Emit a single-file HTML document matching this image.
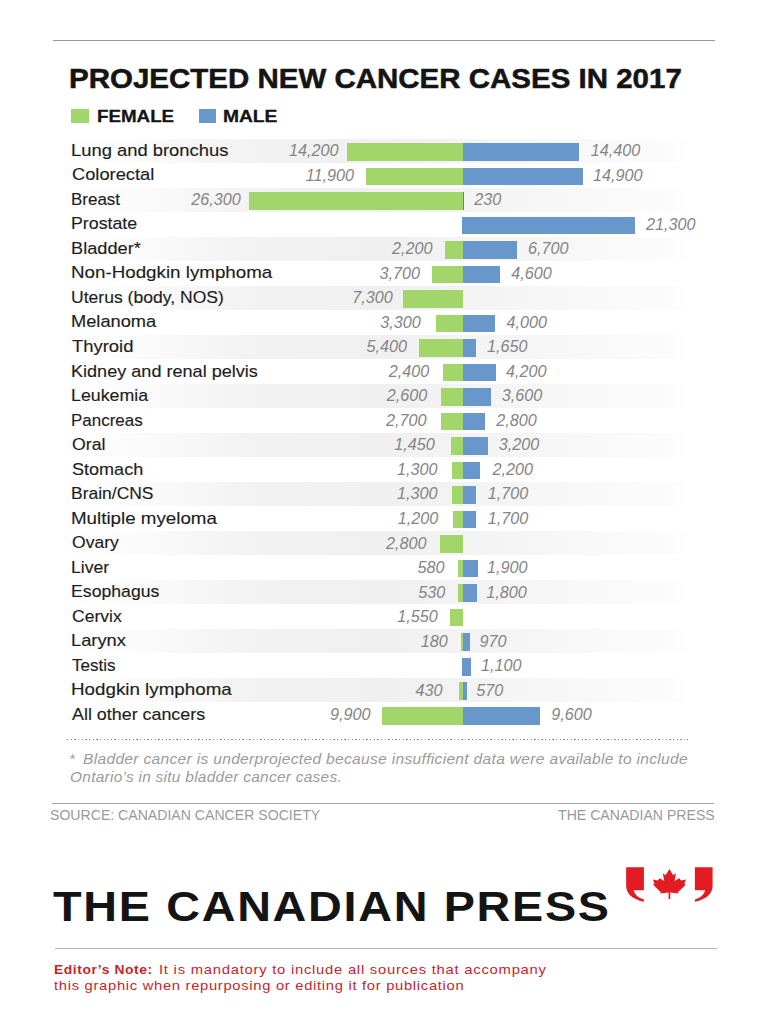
<!DOCTYPE html>
<html><head><meta charset="utf-8"><style>
html,body{margin:0;padding:0;background:#fff;}
body{width:768px;height:1024px;position:relative;overflow:hidden;font-family:"Liberation Sans",sans-serif;}
.t{position:absolute;white-space:nowrap;line-height:1;transform-origin:0 0;}
.r{position:absolute;}
.g{background:#a2d66b;}
.b{background:#6897cc;}
.st{background:linear-gradient(90deg,#fff 0%,#fcfcfc 11%,#f2f2f2 32%,#f0f0f0 52%,#f5f5f5 72%,#fcfcfc 97%,#fff 100%);}
</style></head><body>
<div class="r" style="left:52.5px;top:39.5px;width:662.3px;height:1.2px;background:#999"></div>
<div class="r g" style="left:71.3px;top:109.2px;width:18px;height:13.7px"></div>
<div class="r b" style="left:198.6px;top:109.2px;width:17.8px;height:13.7px"></div>
<div class="r st" style="left:55px;top:138.90px;width:635px;height:24px"></div>
<div class="r st" style="left:55px;top:187.94px;width:635px;height:24px"></div>
<div class="r st" style="left:55px;top:236.98px;width:635px;height:24px"></div>
<div class="r st" style="left:55px;top:286.02px;width:635px;height:24px"></div>
<div class="r st" style="left:55px;top:335.06px;width:635px;height:24px"></div>
<div class="r st" style="left:55px;top:384.10px;width:635px;height:24px"></div>
<div class="r st" style="left:55px;top:433.14px;width:635px;height:24px"></div>
<div class="r st" style="left:55px;top:482.18px;width:635px;height:24px"></div>
<div class="r st" style="left:55px;top:531.22px;width:635px;height:24px"></div>
<div class="r st" style="left:55px;top:580.26px;width:635px;height:24px"></div>
<div class="r st" style="left:55px;top:629.30px;width:635px;height:24px"></div>
<div class="r st" style="left:55px;top:678.34px;width:635px;height:24px"></div>
<div class="r g" style="left:346.80px;top:143.00px;width:116.20px;height:17.6px"></div>
<div class="r b" style="left:463.00px;top:143.00px;width:116.30px;height:17.6px"></div>
<div class="r g" style="left:365.70px;top:167.52px;width:97.30px;height:17.6px"></div>
<div class="r b" style="left:463.00px;top:167.52px;width:120.40px;height:17.6px"></div>
<div class="r g" style="left:248.70px;top:192.04px;width:214.30px;height:17.6px"></div>
<div class="r" style="left:463.00px;top:192.04px;width:1.2px;height:17.6px;background:#5f8d68"></div>
<div class="r b" style="left:462.30px;top:216.56px;width:173.20px;height:17.6px"></div>
<div class="r g" style="left:445.20px;top:241.08px;width:17.80px;height:17.6px"></div>
<div class="r b" style="left:463.00px;top:241.08px;width:54.30px;height:17.6px"></div>
<div class="r g" style="left:432.10px;top:265.60px;width:30.90px;height:17.6px"></div>
<div class="r b" style="left:463.00px;top:265.60px;width:36.80px;height:17.6px"></div>
<div class="r g" style="left:403.00px;top:290.12px;width:60.00px;height:17.6px"></div>
<div class="r g" style="left:436.00px;top:314.64px;width:27.00px;height:17.6px"></div>
<div class="r b" style="left:463.00px;top:314.64px;width:31.90px;height:17.6px"></div>
<div class="r g" style="left:419.10px;top:339.16px;width:43.90px;height:17.6px"></div>
<div class="r b" style="left:463.00px;top:339.16px;width:12.90px;height:17.6px"></div>
<div class="r g" style="left:443.30px;top:363.68px;width:19.70px;height:17.6px"></div>
<div class="r b" style="left:463.00px;top:363.68px;width:32.90px;height:17.6px"></div>
<div class="r g" style="left:441.25px;top:388.20px;width:21.75px;height:17.6px"></div>
<div class="r b" style="left:463.00px;top:388.20px;width:28.00px;height:17.6px"></div>
<div class="r g" style="left:441.25px;top:412.72px;width:21.75px;height:17.6px"></div>
<div class="r b" style="left:463.00px;top:412.72px;width:22.00px;height:17.6px"></div>
<div class="r g" style="left:451.10px;top:437.24px;width:11.90px;height:17.6px"></div>
<div class="r b" style="left:463.00px;top:437.24px;width:25.10px;height:17.6px"></div>
<div class="r g" style="left:452.40px;top:461.76px;width:10.60px;height:17.6px"></div>
<div class="r b" style="left:463.00px;top:461.76px;width:17.00px;height:17.6px"></div>
<div class="r g" style="left:452.40px;top:486.28px;width:10.60px;height:17.6px"></div>
<div class="r b" style="left:463.00px;top:486.28px;width:12.90px;height:17.6px"></div>
<div class="r g" style="left:453.20px;top:510.80px;width:9.80px;height:17.6px"></div>
<div class="r b" style="left:463.00px;top:510.80px;width:12.90px;height:17.6px"></div>
<div class="r g" style="left:439.90px;top:535.32px;width:23.10px;height:17.6px"></div>
<div class="r g" style="left:458.20px;top:559.84px;width:4.80px;height:17.6px"></div>
<div class="r b" style="left:463.00px;top:559.84px;width:15.00px;height:17.6px"></div>
<div class="r g" style="left:458.20px;top:584.36px;width:4.80px;height:17.6px"></div>
<div class="r b" style="left:463.00px;top:584.36px;width:13.90px;height:17.6px"></div>
<div class="r g" style="left:450.10px;top:608.88px;width:12.90px;height:17.6px"></div>
<div class="r g" style="left:461.00px;top:633.40px;width:2.00px;height:17.6px"></div>
<div class="r b" style="left:463.00px;top:633.40px;width:6.90px;height:17.6px"></div>
<div class="r b" style="left:462.30px;top:657.92px;width:8.60px;height:17.6px"></div>
<div class="r g" style="left:459.10px;top:682.44px;width:3.90px;height:17.6px"></div>
<div class="r b" style="left:463.00px;top:682.44px;width:3.90px;height:17.6px"></div>
<div class="r g" style="left:382.00px;top:706.96px;width:81.00px;height:17.6px"></div>
<div class="r b" style="left:463.00px;top:706.96px;width:77.20px;height:17.6px"></div>
<div class="t" style="left:69.23px;top:64.63px;font-size:27.6px;font-weight:bold;color:#141414;-webkit-text-stroke:0.5px #141414;transform:scaleX(1.0686);">PROJECTED NEW CANCER CASES IN 2017</div>
<div class="t" style="left:96.64px;top:107.81px;font-size:17.0px;font-weight:bold;color:#141414;-webkit-text-stroke:0.3px #141414;transform:scaleX(1.1034);">FEMALE</div>
<div class="t" style="left:223.33px;top:107.81px;font-size:17.0px;font-weight:bold;color:#141414;-webkit-text-stroke:0.3px #141414;transform:scaleX(1.1296);">MALE</div>
<div class="t" style="left:70.88px;top:142.84px;font-size:16.6px;color:#1e1e1e;-webkit-text-stroke:0.15px #1e1e1e;transform:scaleX(1.1075);">Lung and bronchus</div>
<div class="t" style="left:289.05px;top:142.18px;font-size:16.2px;color:#858585;font-style:italic;">14,200</div>
<div class="t" style="left:590.65px;top:142.18px;font-size:16.2px;color:#858585;font-style:italic;">14,400</div>
<div class="t" style="left:71.62px;top:167.36px;font-size:16.6px;color:#1e1e1e;-webkit-text-stroke:0.15px #1e1e1e;transform:scaleX(1.1003);">Colorectal</div>
<div class="t" style="left:305.79px;top:166.70px;font-size:16.2px;color:#858585;font-style:italic;">11,900</div>
<div class="t" style="left:593.00px;top:166.70px;font-size:16.2px;color:#858585;font-style:italic;">14,900</div>
<div class="t" style="left:70.98px;top:191.88px;font-size:16.6px;color:#1e1e1e;-webkit-text-stroke:0.15px #1e1e1e;transform:scaleX(1.0235);">Breast</div>
<div class="t" style="left:191.15px;top:191.22px;font-size:16.2px;color:#858585;font-style:italic;">26,300</div>
<div class="t" style="left:474.18px;top:191.22px;font-size:16.2px;color:#858585;font-style:italic;">230</div>
<div class="t" style="left:70.92px;top:216.40px;font-size:16.6px;color:#1e1e1e;-webkit-text-stroke:0.15px #1e1e1e;transform:scaleX(1.0704);">Prostate</div>
<div class="t" style="left:645.98px;top:215.74px;font-size:16.2px;color:#858585;font-style:italic;">21,300</div>
<div class="t" style="left:70.89px;top:240.92px;font-size:16.6px;color:#1e1e1e;-webkit-text-stroke:0.15px #1e1e1e;transform:scaleX(1.0961);">Bladder*</div>
<div class="t" style="left:392.05px;top:240.26px;font-size:16.2px;color:#858585;font-style:italic;">2,200</div>
<div class="t" style="left:527.95px;top:240.26px;font-size:16.2px;color:#858585;font-style:italic;">6,700</div>
<div class="t" style="left:70.85px;top:265.44px;font-size:16.6px;color:#1e1e1e;-webkit-text-stroke:0.15px #1e1e1e;transform:scaleX(1.1309);">Non-Hodgkin lymphoma</div>
<div class="t" style="left:379.55px;top:264.78px;font-size:16.2px;color:#858585;font-style:italic;">3,700</div>
<div class="t" style="left:511.28px;top:264.78px;font-size:16.2px;color:#858585;font-style:italic;">4,600</div>
<div class="t" style="left:71.32px;top:289.96px;font-size:16.6px;color:#1e1e1e;-webkit-text-stroke:0.15px #1e1e1e;transform:scaleX(1.0581);">Uterus (body, NOS)</div>
<div class="t" style="left:352.15px;top:289.30px;font-size:16.2px;color:#858585;font-style:italic;">7,300</div>
<div class="t" style="left:70.89px;top:314.48px;font-size:16.6px;color:#1e1e1e;-webkit-text-stroke:0.15px #1e1e1e;transform:scaleX(1.0995);">Melanoma</div>
<div class="t" style="left:380.35px;top:313.82px;font-size:16.2px;color:#858585;font-style:italic;">3,300</div>
<div class="t" style="left:506.58px;top:313.82px;font-size:16.2px;color:#858585;font-style:italic;">4,000</div>
<div class="t" style="left:71.99px;top:339.00px;font-size:16.6px;color:#1e1e1e;-webkit-text-stroke:0.15px #1e1e1e;transform:scaleX(1.1109);">Thyroid</div>
<div class="t" style="left:366.55px;top:338.34px;font-size:16.2px;color:#858585;font-style:italic;">5,400</div>
<div class="t" style="left:487.00px;top:338.34px;font-size:16.2px;color:#858585;font-style:italic;">1,650</div>
<div class="t" style="left:70.90px;top:363.52px;font-size:16.6px;color:#1e1e1e;-webkit-text-stroke:0.15px #1e1e1e;transform:scaleX(1.0892);">Kidney and renal pelvis</div>
<div class="t" style="left:388.65px;top:362.86px;font-size:16.2px;color:#858585;font-style:italic;">2,400</div>
<div class="t" style="left:505.88px;top:362.86px;font-size:16.2px;color:#858585;font-style:italic;">4,200</div>
<div class="t" style="left:70.92px;top:388.04px;font-size:16.6px;color:#1e1e1e;-webkit-text-stroke:0.15px #1e1e1e;transform:scaleX(1.0714);">Leukemia</div>
<div class="t" style="left:386.85px;top:387.38px;font-size:16.2px;color:#858585;font-style:italic;">2,600</div>
<div class="t" style="left:501.80px;top:387.38px;font-size:16.2px;color:#858585;font-style:italic;">3,600</div>
<div class="t" style="left:70.98px;top:412.56px;font-size:16.6px;color:#1e1e1e;-webkit-text-stroke:0.15px #1e1e1e;transform:scaleX(1.0219);">Pancreas</div>
<div class="t" style="left:386.05px;top:411.90px;font-size:16.2px;color:#858585;font-style:italic;">2,700</div>
<div class="t" style="left:496.18px;top:411.90px;font-size:16.2px;color:#858585;font-style:italic;">2,800</div>
<div class="t" style="left:71.72px;top:437.08px;font-size:16.6px;color:#1e1e1e;-webkit-text-stroke:0.15px #1e1e1e;transform:scaleX(1.0665);">Oral</div>
<div class="t" style="left:394.35px;top:436.42px;font-size:16.2px;color:#858585;font-style:italic;">1,450</div>
<div class="t" style="left:498.70px;top:436.42px;font-size:16.2px;color:#858585;font-style:italic;">3,200</div>
<div class="t" style="left:71.57px;top:461.60px;font-size:16.6px;color:#1e1e1e;-webkit-text-stroke:0.15px #1e1e1e;transform:scaleX(1.0872);">Stomach</div>
<div class="t" style="left:396.95px;top:460.94px;font-size:16.2px;color:#858585;font-style:italic;">1,300</div>
<div class="t" style="left:492.48px;top:460.94px;font-size:16.2px;color:#858585;font-style:italic;">2,200</div>
<div class="t" style="left:70.95px;top:486.12px;font-size:16.6px;color:#1e1e1e;-webkit-text-stroke:0.15px #1e1e1e;transform:scaleX(1.0527);">Brain/CNS</div>
<div class="t" style="left:396.95px;top:485.46px;font-size:16.2px;color:#858585;font-style:italic;">1,300</div>
<div class="t" style="left:487.80px;top:485.46px;font-size:16.2px;color:#858585;font-style:italic;">1,700</div>
<div class="t" style="left:70.85px;top:510.64px;font-size:16.6px;color:#1e1e1e;-webkit-text-stroke:0.15px #1e1e1e;transform:scaleX(1.1300);">Multiple myeloma</div>
<div class="t" style="left:397.75px;top:509.98px;font-size:16.2px;color:#858585;font-style:italic;">1,200</div>
<div class="t" style="left:487.80px;top:509.98px;font-size:16.2px;color:#858585;font-style:italic;">1,700</div>
<div class="t" style="left:71.72px;top:535.16px;font-size:16.6px;color:#1e1e1e;-webkit-text-stroke:0.15px #1e1e1e;transform:scaleX(1.0581);">Ovary</div>
<div class="t" style="left:386.05px;top:534.50px;font-size:16.2px;color:#858585;font-style:italic;">2,800</div>
<div class="t" style="left:70.93px;top:559.68px;font-size:16.6px;color:#1e1e1e;-webkit-text-stroke:0.15px #1e1e1e;transform:scaleX(1.0630);">Liver</div>
<div class="t" style="left:417.43px;top:559.02px;font-size:16.2px;color:#858585;font-style:italic;">580</div>
<div class="t" style="left:487.00px;top:559.02px;font-size:16.2px;color:#858585;font-style:italic;">1,900</div>
<div class="t" style="left:70.93px;top:584.20px;font-size:16.6px;color:#1e1e1e;-webkit-text-stroke:0.15px #1e1e1e;transform:scaleX(1.0651);">Esophagus</div>
<div class="t" style="left:418.13px;top:583.54px;font-size:16.2px;color:#858585;font-style:italic;">530</div>
<div class="t" style="left:486.20px;top:583.54px;font-size:16.2px;color:#858585;font-style:italic;">1,800</div>
<div class="t" style="left:71.65px;top:608.72px;font-size:16.6px;color:#1e1e1e;-webkit-text-stroke:0.15px #1e1e1e;transform:scaleX(1.0561);">Cervix</div>
<div class="t" style="left:397.25px;top:608.06px;font-size:16.2px;color:#858585;font-style:italic;">1,550</div>
<div class="t" style="left:70.89px;top:633.24px;font-size:16.6px;color:#1e1e1e;-webkit-text-stroke:0.15px #1e1e1e;transform:scaleX(1.1029);">Larynx</div>
<div class="t" style="left:420.73px;top:632.58px;font-size:16.2px;color:#858585;font-style:italic;">180</div>
<div class="t" style="left:479.55px;top:632.58px;font-size:16.2px;color:#858585;font-style:italic;">970</div>
<div class="t" style="left:72.00px;top:657.76px;font-size:16.6px;color:#1e1e1e;-webkit-text-stroke:0.15px #1e1e1e;transform:scaleX(1.0269);">Testis</div>
<div class="t" style="left:481.00px;top:657.10px;font-size:16.2px;color:#858585;font-style:italic;">1,100</div>
<div class="t" style="left:70.85px;top:682.28px;font-size:16.6px;color:#1e1e1e;-webkit-text-stroke:0.15px #1e1e1e;transform:scaleX(1.1316);">Hodgkin lymphoma</div>
<div class="t" style="left:415.43px;top:681.62px;font-size:16.2px;color:#858585;font-style:italic;">430</div>
<div class="t" style="left:476.17px;top:681.62px;font-size:16.2px;color:#858585;font-style:italic;">570</div>
<div class="t" style="left:72.46px;top:706.80px;font-size:16.6px;color:#1e1e1e;-webkit-text-stroke:0.15px #1e1e1e;transform:scaleX(1.0773);">All other cancers</div>
<div class="t" style="left:329.95px;top:706.14px;font-size:16.2px;color:#858585;font-style:italic;">9,900</div>
<div class="t" style="left:551.25px;top:706.14px;font-size:16.2px;color:#858585;font-style:italic;">9,600</div>
<div class="t" style="left:69.28px;top:751.55px;font-size:14.0px;font-style:italic;color:#9b9b9b;">*</div>
<div class="t" style="left:83.46px;top:751.55px;font-size:14.0px;font-style:italic;color:#9b9b9b;transform:scaleX(1.1132);letter-spacing:0.272px;">Bladder cancer is underprojected because insufficient data were available to include</div>
<div class="t" style="left:69.66px;top:770.15px;font-size:14.0px;font-style:italic;color:#9b9b9b;transform:scaleX(1.1027);letter-spacing:0.246px;">Ontario’s in situ bladder cancer cases.</div>
<div class="t" style="left:49.99px;top:808.06px;font-size:14.1px;color:#9a9a9a;">SOURCE: CANADIAN CANCER SOCIETY</div>
<div class="t" style="left:558.08px;top:808.06px;font-size:14.1px;color:#9a9a9a;">THE CANADIAN PRESS</div>
<div class="t" style="left:52.76px;top:884.59px;font-size:43.0px;font-weight:bold;color:#141414;transform:scaleX(1.0880);letter-spacing:1.533px;">THE CANADIAN PRESS</div>
<div class="t" style="left:54.05px;top:963.11px;font-size:13.1px;color:#c5262c;font-weight:bold;transform:scaleX(1.0576);letter-spacing:0.527px;">Editor’s Note:</div>
<div class="t" style="left:158.89px;top:963.11px;font-size:13.1px;color:#c5262c;transform:scaleX(1.1288);letter-spacing:0.672px;">It is mandatory to include all sources that accompany</div>
<div class="t" style="left:54.36px;top:979.41px;font-size:13.1px;color:#c5262c;transform:scaleX(1.1256);letter-spacing:0.628px;">this graphic when repurposing or editing it for publication</div>
<div class="r" style="left:66.6px;top:738.6px;width:621px;height:1.3px;background:repeating-linear-gradient(90deg,#8a8a8a 0,#8a8a8a 1.3px,transparent 1.3px,transparent 3.65px)"></div>
<div class="r" style="left:52px;top:802.5px;width:662px;height:1.5px;background:#a0a0a0"></div>
<svg class="r" style="left:620px;top:860px" width="100" height="50" viewBox="620 860 100 50">
<path fill="#e31b23" d="M626.15 867.3 H643.9 V890.3 H633.6 Q635 897 643.9 899.4 V901.7 Q626.5 898 626.15 886 Z"/>
<path fill="#e31b23" d="M712.6 867.3 H694.85 V890.3 H705.15 Q703.75 897 694.85 899.4 V901.7 Q712.25 898 712.6 886 Z"/>
<path fill="#e31b23" d="M669.40 869.10 L673.20 875.20 L676.00 873.30 L674.50 881.10 L679.40 878.20 L680.90 880.50 L685.80 879.40 L684.30 883.90 L685.90 884.50 L678.00 892.30 L678.70 893.50 L670.25 892.60 L670.25 898.90 L668.55 898.90 L668.55 892.60 L660.10 893.50 L660.80 892.30 L652.90 884.50 L654.50 883.90 L653.00 879.40 L657.90 880.50 L659.40 878.20 L664.30 881.10 L662.80 873.30 L665.60 875.20 Z"/>
</svg>
<div class="r" style="left:55px;top:948px;width:662px;height:1.3px;background:#b5b5b5"></div>
</body></html>
